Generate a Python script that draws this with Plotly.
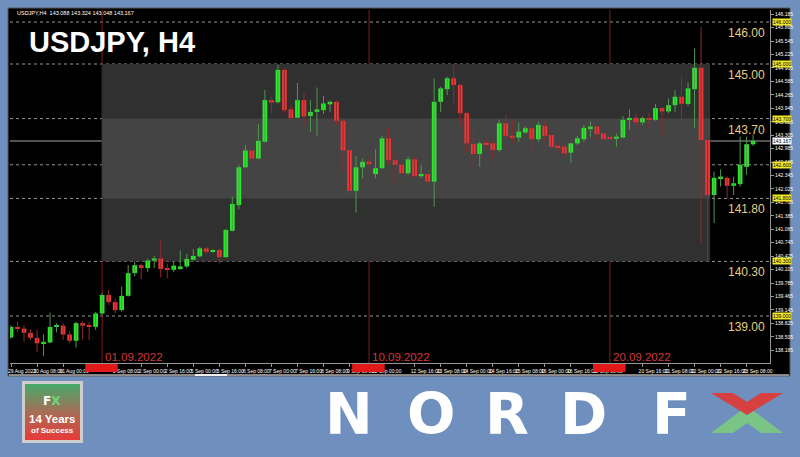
import plotly.graph_objects as go

W, H = 800, 457

# ---------------- data (USDJPY H4 candles) ----------------
opens = [138.49, 138.74, 138.70, 138.60, 138.48, 138.35, 138.37, 138.74, 138.77, 138.56,
         138.41, 138.83, 138.77, 138.74, 139.06, 139.50, 139.33, 139.14, 139.48, 140.02,
         140.21, 140.14, 140.32, 140.37, 140.12, 140.10, 140.14, 140.18, 140.34, 140.42,
         140.61, 140.53, 140.57, 140.40, 141.03, 141.64, 142.54, 142.94, 142.75, 143.15,
         144.14, 144.09, 144.86, 143.92, 143.72, 144.14, 143.76, 143.86, 143.90, 144.04,
         144.10, 143.65, 142.95, 141.98, 142.54, 142.67, 142.38, 142.52, 143.23, 142.71,
         142.60, 142.40, 142.73, 142.33, 142.38, 142.20, 144.10, 144.40, 144.66, 144.50,
         143.83, 143.10, 142.86, 143.13, 143.11, 142.95, 143.59, 143.29, 143.25, 143.37,
         143.47, 143.21, 143.53, 143.31, 143.05, 143.03, 142.89, 143.11, 143.21, 143.47,
         143.51, 143.35, 143.25, 143.22, 143.25, 143.67, 143.72, 143.61, 143.71, 143.67,
         143.95, 143.87, 144.02, 144.22, 144.05, 144.40, 144.91, 143.19, 141.88, 142.28,
         142.29, 142.10, 142.14, 142.55, 143.088]
highs = [138.78, 138.86, 138.79, 138.68, 138.67, 138.56, 139.08, 138.83, 138.83, 138.63,
         138.86, 138.89, 138.86, 139.10, 139.54, 139.62, 139.42, 139.70, 140.21, 140.29,
         140.25, 140.37, 140.43, 140.81, 140.25, 140.29, 140.56, 140.48, 140.59, 140.65,
         140.64, 140.59, 140.61, 141.07, 141.84, 142.60, 143.07, 143.00, 143.57, 144.38,
         144.22, 144.98, 144.90, 144.02, 144.55, 144.32, 144.14, 144.44, 144.24, 144.13,
         144.13, 143.67, 143.11, 142.81, 142.75, 142.80, 142.97, 143.29, 143.47, 142.87,
         142.67, 142.79, 142.79, 142.60, 142.48, 144.66, 144.46, 144.70, 144.98, 144.54,
         143.86, 143.51, 143.15, 143.21, 143.19, 143.67, 143.79, 143.67, 143.60, 143.52,
         143.51, 143.63, 143.65, 143.35, 143.15, 143.07, 143.13, 143.29, 143.55, 143.63,
         143.55, 143.39, 143.29, 143.35, 143.76, 143.92, 143.83, 143.75, 143.84, 144.05,
         143.97, 144.18, 144.38, 144.70, 144.56, 145.37, 145.88, 143.22, 142.44, 142.49,
         142.33, 142.32, 143.27, 143.27, 143.324]
lows = [138.46, 138.63, 138.39, 138.43, 138.15, 138.05, 138.35, 138.61, 138.43, 138.35,
        138.25, 138.44, 138.43, 138.67, 139.02, 139.26, 139.06, 139.10, 139.46, 139.94,
        139.87, 140.05, 140.14, 139.92, 139.90, 140.05, 140.10, 140.14, 140.32, 140.40,
        140.49, 140.51, 140.25, 140.39, 141.01, 141.54, 142.52, 142.67, 142.73, 143.13,
        143.83, 144.06, 143.83, 143.67, 143.71, 143.52, 143.39, 143.29, 143.81, 143.86,
        143.55, 142.44, 141.88, 141.46, 142.28, 142.51, 142.28, 142.49, 142.60, 142.16,
        142.16, 142.36, 142.28, 142.28, 142.00, 141.60, 143.86, 144.26, 144.06, 143.51,
        142.91, 142.60, 142.55, 142.99, 142.75, 142.91, 143.19, 143.13, 143.15, 143.34,
        142.83, 143.15, 143.15, 142.95, 142.86, 142.83, 142.64, 143.07, 143.15, 143.27,
        143.19, 143.17, 143.19, 143.03, 143.23, 143.43, 143.51, 143.55, 143.45, 143.65,
        143.31, 143.83, 143.86, 143.39, 144.00, 143.47, 140.74, 140.33, 141.21, 142.08,
        141.80, 141.88, 142.08, 142.36, 143.048]
closes = [138.74, 138.70, 138.60, 138.48, 138.35, 138.37, 138.74, 138.77, 138.56, 138.41,
          138.83, 138.77, 138.74, 139.06, 139.50, 139.33, 139.14, 139.48, 140.02, 140.21,
          140.14, 140.32, 140.37, 140.12, 140.10, 140.20, 140.18, 140.36, 140.43, 140.61,
          140.53, 140.57, 140.40, 141.05, 141.67, 142.54, 142.94, 142.75, 143.17, 144.14,
          144.08, 144.86, 143.90, 143.71, 144.14, 143.75, 143.86, 143.92, 144.06, 144.10,
          143.65, 142.94, 141.98, 142.54, 142.67, 142.64, 142.52, 143.23, 142.71, 142.60,
          142.40, 142.73, 142.33, 142.38, 142.20, 144.10, 144.42, 144.66, 144.50, 143.83,
          143.11, 142.86, 143.11, 143.09, 142.95, 143.59, 143.29, 143.25, 143.39, 143.47,
          143.21, 143.55, 143.29, 143.03, 143.02, 142.87, 143.11, 143.23, 143.48, 143.51,
          143.33, 143.21, 143.22, 143.27, 143.67, 143.71, 143.61, 143.71, 143.67, 143.95,
          143.87, 144.02, 144.22, 144.05, 144.42, 144.91, 143.19, 141.88, 142.29, 142.32,
          142.10, 142.16, 142.60, 143.09, 143.167]

last_price = 143.167

# horizontal levels
level_values = [146.00, 145.00, 143.70, 142.60, 141.80, 140.30, 139.00]
big_level_values = [146.00, 145.00, 143.70, 141.80, 140.30, 139.00]
big_level_labels = ["146.00", "145.00", "143.70", "141.80", "140.30", "139.00"]
axis_level_labels = ["146.000", "145.000", "143.700", "142.600", "141.800", "140.300", "139.000"]

# zones (price bounds)
zone_outer = [140.30, 145.00]
zone_inner = [141.80, 143.70]
zone_start_idx = 14
zone_end_idx = 107.4

# period separators
sep_idx = [14, 55, 92]
sep_labels = ["01.09.2022", "10.09.2022", "20.09.2022"]

# x-axis tick labels
xtick_idx = [0, 4, 8, 16, 20, 24, 28, 32, 36, 40, 44, 48, 52, 56, 62, 66, 70, 74, 78, 82,
             86, 90, 97, 101, 105, 109, 113]
xtick_text = ["29 Aug 2022", "30 Aug 08:00", "31 Aug 00:00", "1 Sep 08:00", "2 Sep 00:00",
              "2 Sep 16:00", "5 Sep 00:00", "5 Sep 16:00", "6 Sep 08:00", "7 Sep 00:00",
              "7 Sep 16:00", "8 Sep 08:00", "9 Sep 00:00", "12 Sep 00:00", "12 Sep 16:00",
              "13 Sep 08:00", "14 Sep 00:00", "14 Sep 16:00", "15 Sep 08:00", "16 Sep 00:00",
              "16 Sep 16:00", "19 Sep 08:00", "20 Sep 16:00", "21 Sep 08:00", "22 Sep 00:00",
              "22 Sep 16:00", "23 Sep 08:00"]

# y-axis tick labels
ytick_vals = [137.865, 138.185, 138.505, 138.825, 139.145, 139.465, 139.785, 140.105,
              140.425, 140.745, 141.065, 141.385, 141.705, 142.025, 142.345, 142.665,
              142.985, 143.305, 143.625, 143.945, 144.265, 144.585, 144.905, 145.225,
              145.545, 145.865, 146.185]
ytick_text = ["%.3f" % v for v in ytick_vals]

# brand texts
brand_letters = ["N", "O", "R", "D", "F"]

# ---------------- styles ----------------
BG_BLUE = "#6f90bf"
UP = "rgb(40,235,40)"
DOWN = "rgb(235,55,55)"
UP_WICK = "rgb(80,150,80)"
DOWN_WICK = "rgb(150,40,40)"
SEP = "rgb(125,30,30)"
GOLD = "rgb(228,206,128)"
SMALL_FONT = "Liberation Sans Narrow, Liberation Sans, Arial"


def px(x):
    return x / W


def py(y):
    return 1 - y / H


n = len(opens)
idx = list(range(n))

fig = go.Figure()

# wicks
for is_up, col in [(True, UP_WICK), (False, DOWN_WICK)]:
    wx, wy = [], []
    for i in idx:
        if (closes[i] >= opens[i]) == is_up:
            wx += [i, i, None]
            wy += [lows[i], highs[i], None]
    fig.add_trace(go.Scatter(x=wx, y=wy, mode="lines", line=dict(color=col, width=1),
                             hoverinfo="skip", showlegend=False))

# bodies
for is_up, col in [(True, UP), (False, DOWN)]:
    bx, bb, bh = [], [], []
    for i in idx:
        if (closes[i] >= opens[i]) == is_up:
            bx.append(i)
            bb.append(min(opens[i], closes[i]))
            bh.append(max(abs(closes[i] - opens[i]), 0.035))
    fig.add_trace(go.Bar(x=bx, y=bh, base=bb, width=0.72, marker=dict(color=col, line=dict(width=0)),
                         hoverinfo="skip", showlegend=False))

# gradient fill for the logo badge (pixel-space overlay axes, y grows downward)
fig.add_trace(go.Scatter(x=[25, 80, 80, 25, 25], y=[384, 384, 440, 440, 384], mode="lines",
                         fill="toself", line=dict(width=0),
                         fillgradient=dict(type="vertical", start=384, stop=440,
                                           colorscale=[[0, "rgb(70,170,105)"], [0.5, "rgb(165,110,85)"],
                                                       [1, "rgb(232,58,58)"]]),
                         xaxis="x2", yaxis="y2", hoverinfo="skip", showlegend=False))

shapes = []
# black chart panel
shapes.append(dict(type="rect", xref="paper", yref="paper", x0=px(8), x1=px(790), y0=py(8), y1=py(376),
                   fillcolor="black", line=dict(color="rgb(90,90,90)", width=1), layer="below"))
# bottom scrollbar strip
shapes.append(dict(type="line", xref="paper", yref="paper", x0=px(9), x1=px(789), y0=py(375), y1=py(375),
                   line=dict(color="rgb(175,175,175)", width=1.5), layer="below"))
shapes.append(dict(type="line", xref="paper", yref="paper", x0=px(195), x1=px(227), y0=py(375), y1=py(375),
                   line=dict(color="rgb(240,240,240)", width=2), layer="below"))
# zones
shapes.append(dict(type="rect", xref="x", yref="y", x0=zone_start_idx, x1=zone_end_idx,
                   y0=zone_outer[0], y1=zone_outer[1], fillcolor="rgb(48,48,48)", line=dict(width=0),
                   layer="below"))
shapes.append(dict(type="rect", xref="x", yref="y", x0=zone_start_idx, x1=zone_end_idx,
                   y0=zone_inner[0], y1=zone_inner[1], fillcolor="rgb(68,68,68)", line=dict(width=0),
                   layer="below"))
# dotted level lines
for v in level_values:
    shapes.append(dict(type="line", xref="paper", yref="y", x0=px(10), x1=px(770), y0=v, y1=v,
                       line=dict(color="rgb(150,150,150)", width=1, dash="dot"), layer="below"))
# last price line
shapes.append(dict(type="line", xref="paper", yref="y", x0=px(10), x1=px(770), y0=last_price, y1=last_price,
                   line=dict(color="rgb(165,165,165)", width=1), layer="below"))
# separators
for s in sep_idx:
    shapes.append(dict(type="line", xref="x", yref="paper", x0=s, x1=s, y0=py(10), y1=py(363),
                       line=dict(color=SEP, width=1), layer="below"))
    shapes.append(dict(type="rect", xref="x", yref="paper", x0=s - 2.6, x1=s + 2.4, y0=py(372), y1=py(364),
                       fillcolor="rgb(225,25,25)", line=dict(width=0), layer="above"))
# logo badge border
shapes.append(dict(type="rect", xref="paper", yref="paper", x0=px(22), x1=px(83), y0=py(381), y1=py(443),
                   fillcolor="rgb(205,205,205)", line=dict(width=0), layer="below"))


def poly(points):
    return "M " + " L ".join("{} {}".format(px(a), py(b)) for a, b in points) + " Z"


# NORD FX "X" mark (red upper V, green lower inverted V)
shapes.append(dict(type="path", xref="paper", yref="paper",
                   path=poly([(747, 406), (783, 433), (761, 433), (747, 423), (733, 433), (711, 433)]),
                   fillcolor="rgb(122,196,134)", line=dict(width=0), layer="above"))
shapes.append(dict(type="path", xref="paper", yref="paper",
                   path=poly([(711, 393), (733, 393), (747, 402), (761, 393), (783, 393), (747, 415)]),
                   fillcolor="rgb(214,64,64)", line=dict(width=0), layer="above"))

annotations = []
# header line
annotations.append(dict(text="USDJPY,H4  143.088 143.324 143.048 143.167", xref="paper", yref="paper",
                        x=px(15), y=py(13), xanchor="left", yanchor="middle", showarrow=False,
                        font=dict(family=SMALL_FONT, size=5.5, color="white")))
# title
annotations.append(dict(text="<b>USDJPY, H4</b>", xref="paper", yref="paper", x=px(27), y=py(42),
                        xanchor="left", yanchor="middle", showarrow=False,
                        font=dict(family="Liberation Sans", size=29, color="white")))
# big level labels
for v, t in zip(big_level_values, big_level_labels):
    annotations.append(dict(text=t, xref="paper", yref="y", x=px(767), y=v, xanchor="right",
                            yanchor="top", yshift=-2, showarrow=False,
                            font=dict(family="Liberation Sans", size=12, color=GOLD)))
# axis highlighted labels
for v, t in zip(level_values, axis_level_labels):
    annotations.append(dict(text=t, xref="paper", yref="y", x=px(772), y=v, xanchor="left",
                            yanchor="middle", showarrow=False, bgcolor="rgb(240,232,40)", borderpad=0,
                            font=dict(family=SMALL_FONT, size=5, color="black")))
annotations.append(dict(text="%.3f" % last_price, xref="paper", yref="y", x=px(772), y=last_price,
                        xanchor="left", yanchor="middle", showarrow=False, bgcolor="white", borderpad=0,
                        font=dict(family=SMALL_FONT, size=5, color="black")))
# separator labels
for s, t in zip(sep_idx, sep_labels):
    annotations.append(dict(text=t, xref="x", yref="paper", x=s, xshift=1, y=py(357), xanchor="left",
                            yanchor="middle", showarrow=False,
                            font=dict(family="Liberation Sans", size=11.5, color="rgb(215,55,55)")))
# logo badge texts
annotations.append(dict(text="<b>F<span style='color:rgb(110,215,130)'>X</span></b>", xref="paper",
                        yref="paper", x=px(52), y=py(401), xanchor="center", yanchor="middle",
                        showarrow=False, font=dict(family="DejaVu Sans", size=12, color="white")))
annotations.append(dict(text="<b>14 Years</b>", xref="paper", yref="paper", x=px(52), y=py(419),
                        xanchor="center", yanchor="middle", showarrow=False,
                        font=dict(family=SMALL_FONT, size=11.5, color="white")))
annotations.append(dict(text="<b>of Success</b>", xref="paper", yref="paper", x=px(52), y=py(430),
                        xanchor="center", yanchor="middle", showarrow=False,
                        font=dict(family=SMALL_FONT, size=8, color="white")))
# NORD F letters
for ch, cx in zip(brand_letters, [349, 431, 507, 583, 671]):
    annotations.append(dict(text="<b>%s</b>" % ch, xref="paper", yref="paper", x=px(cx),
                            y=py(414), xanchor="center", yanchor="middle", showarrow=False,
                            font=dict(family="DejaVu Sans", size=57, color="white")))

fig.update_layout(
    template="none",
    width=W, height=H,
    margin=dict(l=0, r=0, t=0, b=0, pad=0),
    paper_bgcolor=BG_BLUE,
    plot_bgcolor="rgba(0,0,0,0)",
    barmode="overlay",
    showlegend=False,
    hovermode=False,
    shapes=shapes,
    annotations=annotations,
    xaxis=dict(domain=[10 / W, 770 / W], range=[-0.154, 116.59], showgrid=False, zeroline=False,
               automargin=False, showline=True, linecolor="rgb(150,150,150)", linewidth=1,
               ticks="outside", ticklen=3, tickangle=0,
               tickcolor="rgb(150,150,150)", tickvals=xtick_idx, ticktext=xtick_text,
               ticklabelshift=11, tickfont=dict(family=SMALL_FONT, size=5, color="white"),
               fixedrange=True),
    yaxis=dict(domain=[(H - 363) / H, (H - 10) / H], range=[137.881, 146.2857], side="right",
               automargin=False, showgrid=False, zeroline=False, showline=True,
               linecolor="rgb(150,150,150)", linewidth=1,
               ticks="outside", ticklen=3, tickcolor="rgb(150,150,150)", tickvals=ytick_vals,
               ticktext=ytick_text, tickfont=dict(family=SMALL_FONT, size=5, color="white"),
               fixedrange=True),
    xaxis2=dict(domain=[0, 1], range=[0, W], visible=False, anchor="y2", fixedrange=True, automargin=False),
    yaxis2=dict(domain=[0, 1], range=[H, 0], visible=False, anchor="x2", fixedrange=True, automargin=False),
)

fig.write_html("out.html", config={"displayModeBar": False},
               post_script="document.body.style.margin='0px';document.body.style.overflow='hidden';")
